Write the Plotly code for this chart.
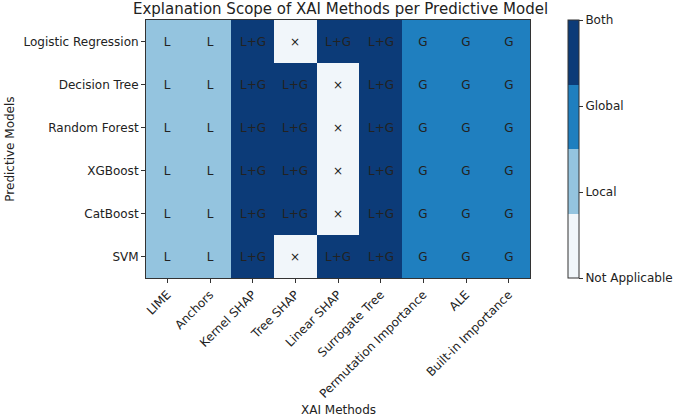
import plotly.graph_objects as go

methods = ["LIME", "Anchors", "Kernel SHAP", "Tree SHAP", "Linear SHAP",
           "Surrogate Tree", "Permutation Importance", "ALE", "Built-in Importance"]
models = ["Logistic Regression", "Decision Tree", "Random Forest", "XGBoost", "CatBoost", "SVM"]

# 0 = Not Applicable, 1 = Local, 2 = Global, 3 = Both
scope_lr = [1, 1, 3, 0, 3, 3, 2, 2, 2]
scope_dt = [1, 1, 3, 3, 0, 3, 2, 2, 2]
scope_rf = [1, 1, 3, 3, 0, 3, 2, 2, 2]
scope_xgb = [1, 1, 3, 3, 0, 3, 2, 2, 2]
scope_cat = [1, 1, 3, 3, 0, 3, 2, 2, 2]
scope_svm = [1, 1, 3, 0, 3, 3, 2, 2, 2]

level_names = ["Not Applicable", "Local", "Global", "Both"]
level_marks = ["×", "L", "G", "L+G"]
level_colors = ["#f1f6fa", "#94c4df", "#1f7fbf", "#0c3b78"]

z = [scope_lr, scope_dt, scope_rf, scope_xgb, scope_cat, scope_svm]
text = [[level_marks[v] for v in row] for row in z]

n = len(level_colors)
colorscale = []
for i, c in enumerate(level_colors):
    colorscale.append([i / n, c])
    colorscale.append([(i + 1) / n, c])

font = "DejaVu Sans"
fs = 12

fig = go.Figure(go.Heatmap(
    z=z, x=methods, y=models, text=text, texttemplate="%{text}",
    textfont=dict(family=font, size=fs, color="#222222"),
    colorscale=colorscale, zmin=0, zmax=3,
    colorbar=dict(
        tickvals=[0, 1, 2, 3], ticktext=level_names,
        thickness=11, len=1.0, lenmode="fraction",
        x=1.098, xanchor="left", y=1, yanchor="top",
        outlinewidth=1, outlinecolor="#333333",
        ticks="outside", ticklen=4, tickcolor="#333333",
        tickfont=dict(family=font, size=fs, color="#222222"),
        xpad=0, ypad=0,
    ),
    hoverongaps=False,
))

fig.update_layout(
    width=685, height=418,
    margin=dict(l=146, r=150, t=20, b=140),
    plot_bgcolor="white", paper_bgcolor="white",
    font=dict(family=font, size=fs, color="#222222"),
    title=dict(text="Explanation Scope of XAI Methods per Predictive Model",
               x=(146 + 535) / 2 / 685, xanchor="center",
               yref="container", y=1 - 9 / 418, yanchor="middle", pad=dict(t=0, b=0),
               font=dict(family=font, size=15, color="#222222")),
    annotations=[
        dict(text="XAI Methods", xref="paper", yref="paper", x=0.5, y=-0.512,
             xanchor="center", yanchor="middle", showarrow=False,
             font=dict(family=font, size=fs, color="#222222")),
        dict(text="Predictive Models", xref="paper", yref="paper", x=-0.355, y=0.5,
             xanchor="center", yanchor="middle", showarrow=False, textangle=-90,
             font=dict(family=font, size=fs, color="#222222")),
    ],
)
fig.update_xaxes(tickangle=-45, ticks="outside", ticklen=4, tickcolor="#333333",
                 showline=True, linecolor="#333333", linewidth=1, mirror=True,
                 showgrid=False, zeroline=False,
                 tickfont=dict(family=font, size=fs, color="#222222"))
fig.update_yaxes(autorange="reversed", ticks="outside", ticklen=4, tickcolor="#333333",
                 showline=True, linecolor="#333333", linewidth=1, mirror=True,
                 showgrid=False, zeroline=False,
                 tickfont=dict(family=font, size=fs, color="#222222"))

fig.write_html("out.html", config={"displayModeBar": False},
               post_script="document.body.style.margin='0';document.body.style.overflow='hidden';")
